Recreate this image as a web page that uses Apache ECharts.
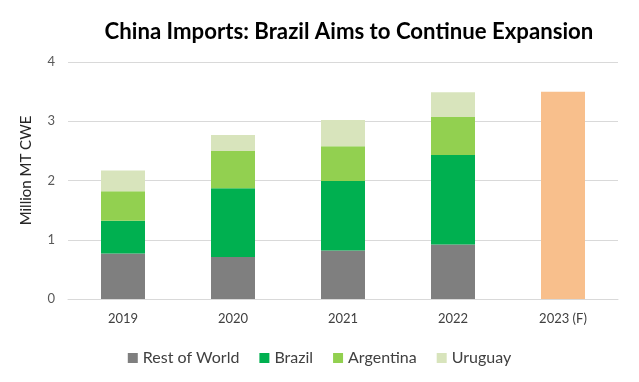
<!DOCTYPE html>
<html>
<head>
<meta charset="utf-8">
<script src="https://cdn.jsdelivr.net/npm/echarts@6/dist/echarts.min.js"></script>
<style>html,body{margin:0;padding:0;background:#fff}#c{width:639px;height:382px}</style>
</head>
<body>
<div id="c"></div>
<script>
const categories = ['2019', '2020', '2021', '2022', '2023 (F)'];
const restOfWorld = [0.77, 0.71, 0.82, 0.92, null];
const brazil = [0.55, 1.16, 1.17, 1.51, null];
const argentina = [0.50, 0.63, 0.59, 0.64, null];
const uruguay = [0.35, 0.27, 0.44, 0.42, null];
const forecast = [null, null, null, null, 3.5];
const yTicks = [0, 1, 2, 3, 4];

const font = 'Lato, "Noto Sans", sans-serif';
const chart = echarts.init(document.getElementById('c'), null, {renderer: 'canvas'});
const mk = (name, data, color) => ({
  name, type: 'bar', stack: 'total', data, barWidth: '40%',
  itemStyle: {color}, emphasis: {disabled: true}
});
chart.setOption({
  animation: false,
  textStyle: {fontFamily: font},
  title: {
    text: 'China Imports: Brazil Aims to Continue Expansion',
    left: 344, textAlign: 'center', top: 16,
    textStyle: {fontFamily: font, fontSize: 22.2, fontWeight: 'bold', color: '#000'}
  },
  grid: {left: 68, right: 21, top: 62, bottom: 83, containLabel: false},
  legend: {
    data: ['Rest of World', 'Brazil', 'Argentina', 'Uruguay'],
    left: 'center', top: 345, itemWidth: 10, itemHeight: 10, itemGap: 20,
    icon: 'rect',
    textStyle: {fontFamily: font, fontSize: 16, color: '#404040'}
  },
  xAxis: {
    type: 'category', data: categories,
    axisLine: {lineStyle: {color: '#d9d9d9', width: 1}},
    axisTick: {show: false},
    axisLabel: {fontFamily: font, fontSize: 13, color: '#404040', margin: 13}
  },
  yAxis: {
    type: 'value', min: yTicks[0], max: yTicks[yTicks.length - 1], interval: 1,
    name: 'Million MT CWE', nameLocation: 'middle', nameGap: 34, nameRotate: 90,
    nameTextStyle: {fontFamily: font, fontSize: 15, color: '#262626', padding: [0, 0, 0, 20]},
    axisLine: {show: false}, axisTick: {show: false},
    axisLabel: {fontFamily: font, fontSize: 13, color: '#595959', margin: 13},
    splitLine: {lineStyle: {color: '#d9d9d9', width: 1}}
  },
  series: [
    mk('Rest of World', restOfWorld, '#7f7f7f'),
    mk('Brazil', brazil, '#00b050'),
    mk('Argentina', argentina, '#92d050'),
    mk('Uruguay', uruguay, '#d8e4bc'),
    mk('2023 (F)', forecast, '#f8bf8c')
  ]
});
</script>
</body>
</html>
